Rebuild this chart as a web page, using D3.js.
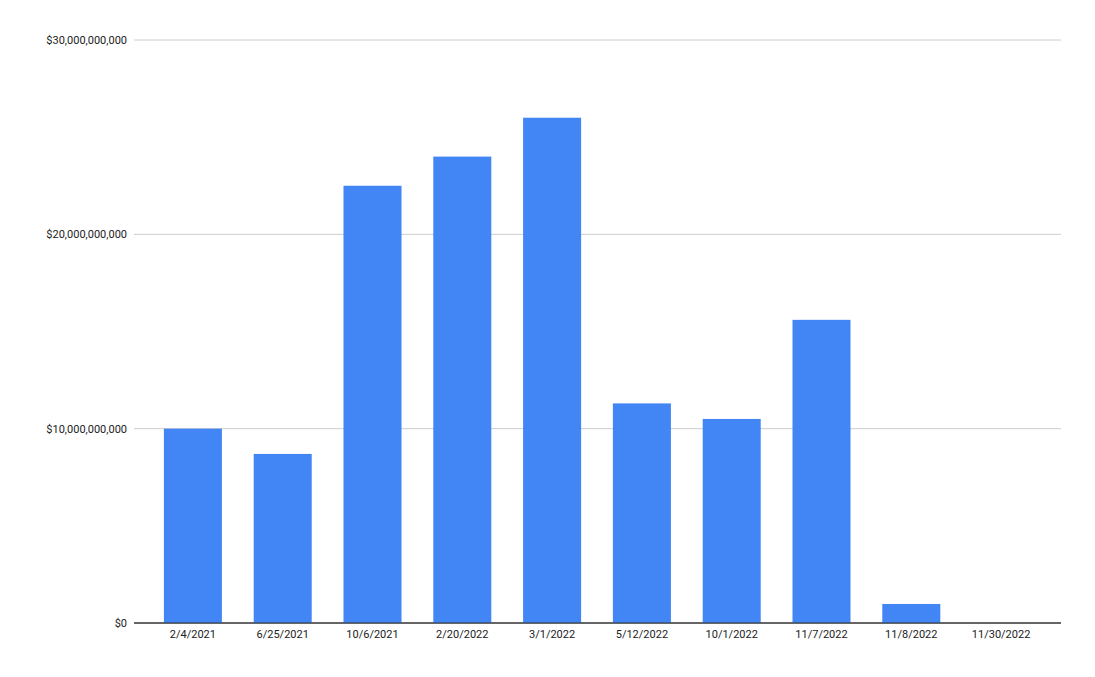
<!DOCTYPE html>
<html><head><meta charset="utf-8">
<script src="https://cdn.jsdelivr.net/npm/d3@7"></script>
<style>body{margin:0;background:#fff;font-family:Roboto,Arial,sans-serif}</style>
</head><body><svg id="c" width="1095" height="677"></svg>
<script>
const categories = ["2/4/2021","6/25/2021","10/6/2021","2/20/2022","3/1/2022","5/12/2022","10/1/2022","11/7/2022","11/8/2022","11/30/2022"];
const values = [10.0e9, 8.7e9, 22.5e9, 24.0e9, 26.0e9, 11.3e9, 10.5e9, 15.6e9, 0.98e9, 0];
const yTicks = [0, 10e9, 20e9, 30e9];

const svg = d3.select("#c");
const x = d3.scaleBand().domain(categories).range([148, 1046]).paddingInner(0.354).paddingOuter(0.177);
const y = d3.scaleLinear().domain([0, 30e9]).range([623, 40]);
const fmt = v => "$" + d3.format(",")(v);

svg.append("g").selectAll("line").data(yTicks).join("line")
  .attr("x1", 134).attr("x2", 1061).attr("y1", d => y(d)).attr("y2", d => y(d))
  .attr("stroke", d => d === 0 ? "#333" : "#ccc").attr("stroke-width", 1);
svg.append("g").selectAll("text").data(yTicks).join("text")
  .attr("x", 127).attr("y", d => y(d)).attr("dy", "0.35em").attr("text-anchor", "end")
  .attr("font-size", 11).attr("fill", "#222").text(fmt);
svg.append("g").selectAll("rect").data(values).join("rect")
  .attr("x", (d, i) => x(categories[i])).attr("width", x.bandwidth())
  .attr("y", d => y(d)).attr("height", d => y(0) - y(d)).attr("fill", "#4285f4");
svg.append("g").selectAll("text").data(categories).join("text")
  .attr("x", d => x(d) + x.bandwidth() / 2).attr("y", 638).attr("text-anchor", "middle")
  .attr("font-size", 11).attr("fill", "#222").text(d => d);
// redraw baseline over bars
svg.append("line").attr("x1", 134).attr("x2", 1061).attr("y1", y(0)).attr("y2", y(0)).attr("stroke", "#333");
</script></body></html>
